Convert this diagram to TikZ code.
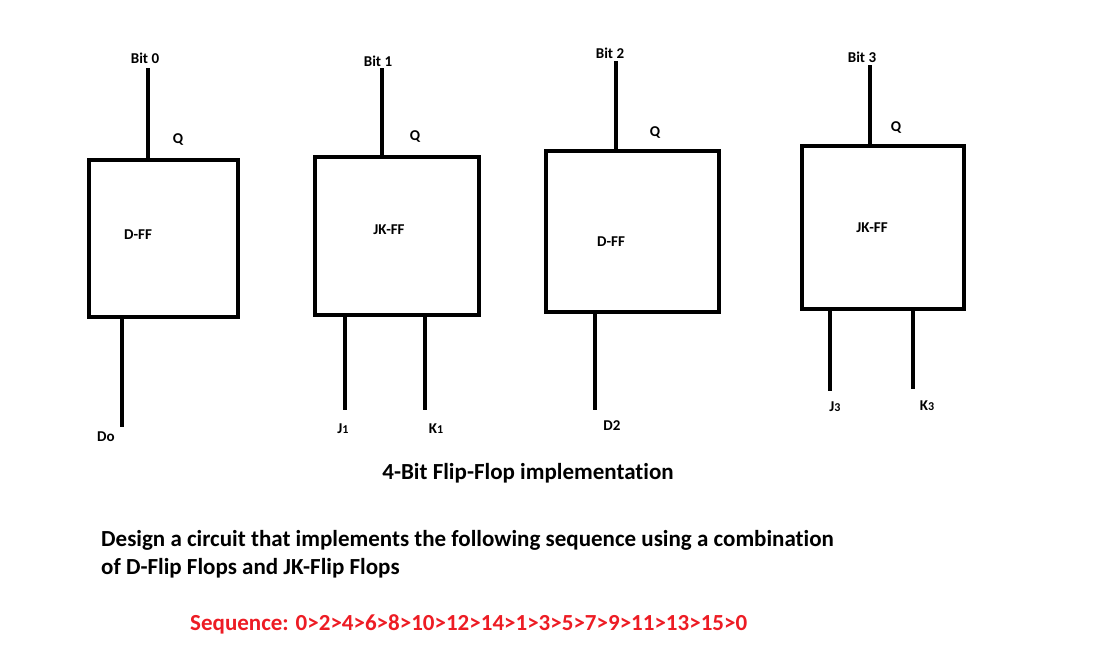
\documentclass[tikz,border=0pt]{standalone}
\usepackage{fontspec}
\setmainfont{Carlito}[Ligatures=NoCommon]
\begin{document}
\begin{tikzpicture}[x=1pt,y=-1pt,
  box/.style={line width=4pt},
  wire/.style={line width=4pt},
  lab/.style={font=\bfseries\fontsize{15}{17}\selectfont,inner sep=0pt},
  big/.style={font=\bfseries\fontsize{23}{27}\selectfont,inner sep=0pt}]
\useasboundingbox (0,0) rectangle (1110,659);
\draw[box] (89,160) rectangle (238,317);
\draw[box] (315,157) rectangle (479,315);
\draw[box] (546,151) rectangle (719,312);
\draw[box] (802,146) rectangle (964,309);
\node[lab] (b0) at (145,58) {Bit 0};
\node[lab] (b1) at (378,61) {Bit 1};
\node[lab] (b2) at (610,53) {Bit 2};
\node[lab] (b3) at (862,57) {Bit 3};
\coordinate (t0) at (148,68); \coordinate (t0e) at (148,160);
\coordinate (t1) at (382,68); \coordinate (t1e) at (382,157);
\coordinate (t2) at (616,61); \coordinate (t2e) at (616,151);
\coordinate (t3) at (870,65); \coordinate (t3e) at (870,146);
\draw[wire] (t0)--(t0e); \draw[wire] (t1)--(t1e);
\draw[wire] (t2)--(t2e); \draw[wire] (t3)--(t3e);
\node[lab] (q0) at (178,140) {Q};
\node[lab] (q1) at (415,137) {Q};
\node[lab] (q2) at (655,133) {Q};
\node[lab] (q3) at (896,128) {Q};
\node[lab] (f0) at (138,235) {D-FF};
\node[lab] (f1) at (389,230) {JK-FF};
\node[lab] (f2) at (611,242) {D-FF};
\node[lab] (f3) at (872,228) {JK-FF};
\coordinate (d0a) at (122,317); \coordinate (d0b) at (122,427);
\coordinate (j1a) at (345,315); \coordinate (j1b) at (345,410);
\coordinate (k1a) at (425,315); \coordinate (k1b) at (425,410);
\coordinate (d2a) at (595,312); \coordinate (d2b) at (595,410);
\coordinate (j3a) at (830,309); \coordinate (j3b) at (830,391);
\coordinate (k3a) at (913,309); \coordinate (k3b) at (913,389);
\draw[wire] (d0a)--(d0b); \draw[wire] (j1a)--(j1b); \draw[wire] (k1a)--(k1b);
\draw[wire] (d2a)--(d2b); \draw[wire] (j3a)--(j3b); \draw[wire] (k3a)--(k3b);
\node[lab] (ld0) at (106,437) {Do};
\node[lab] (lj1) at (343,429) {J{\fontsize{12}{14}\selectfont1}};
\node[lab] (lk1) at (436,429) {K{\fontsize{12}{14}\selectfont1}};
\node[lab] (ld2) at (612,426) {D2};
\node[lab] (lj3) at (835,407) {J{\fontsize{12}{14}\selectfont3}};
\node[lab] (lk3) at (927,406) {K{\fontsize{12}{14}\selectfont3}};
\node[big] (title) at (528,473) {4-Bit Flip-Flop implementation};
\node[big,anchor=west] (p1) at (101,540) {Design a circuit that implements the following sequence using a combination};
\node[big,anchor=west] (p2) at (101,568) {of D-Flip Flops and JK-Flip Flops};
\node[big,anchor=west,text={rgb,255:red,237;green,28;blue,36}] (seq) at (190,624) {Sequence: 0>2>4>6>8>10>12>14>1>3>5>7>9>11>13>15>0};
\end{tikzpicture}
\end{document}
